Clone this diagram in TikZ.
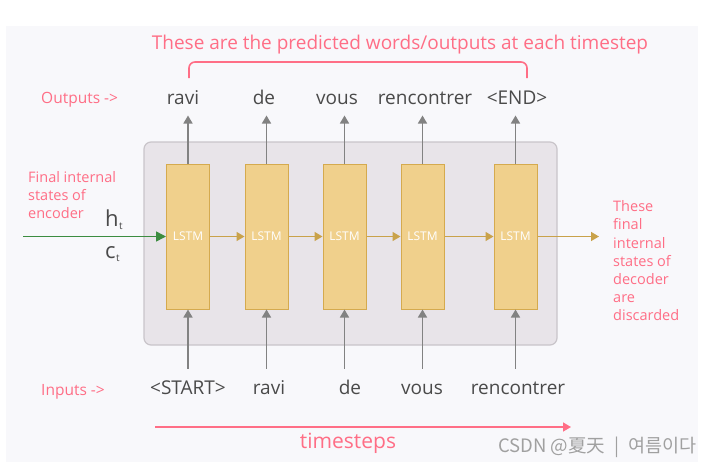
\documentclass[tikz,border=0pt]{standalone}
\usepackage{fontspec}
\setmainfont{Open Sans}
\newfontfamily\cjkfont{Noto Sans CJK SC}
\usetikzlibrary{arrows.meta}
\definecolor{bgc}{HTML}{F8F8FB}
\definecolor{boxf}{HTML}{E8E4E9}
\definecolor{boxb}{HTML}{C9C5CA}
\definecolor{lstmf}{HTML}{F0D08C}
\definecolor{lstmb}{HTML}{D5AA4E}
\definecolor{arrg}{HTML}{C9A24A}
\definecolor{grayar}{HTML}{828282}
\definecolor{grn}{HTML}{3C8C40}
\definecolor{pk}{HTML}{FF6E86}
\definecolor{txt}{HTML}{4A4A4A}
\definecolor{wm}{HTML}{A0A0A0}
\tikzset{
  word/.style={font=\fontsize{19}{22}\selectfont, text=txt, anchor=base, inner sep=0pt},
  pinklbl/.style={font=\fontsize{14.5}{18.2}\selectfont, text=pk, inner sep=0pt, align=left},
  lstmbox/.style={draw=lstmb, fill=lstmf, line width=1pt, minimum width=43pt, minimum height=145pt, inner sep=0pt, font=\fontsize{12}{13}\selectfont, text=white},
  goldar/.style={draw=arrg, line width=1.6pt, -{Triangle[length=8pt,width=9pt]}},
  grayarrow/.style={draw=grayar, line width=1.5pt, -{Triangle[length=8pt,width=9pt]}},
}
\begin{document}
\begin{tikzpicture}[x=1pt,y=-1pt]
\useasboundingbox (0,0) rectangle (716,467);
\fill[white] (0,0) rectangle (716,467);
\fill[bgc] (6,26) rectangle (698,462);
% container
\draw[fill=boxf, draw=boxb, line width=1.2pt, rounded corners=7pt] (144,142) rectangle (557,345);
% title and bracket
\node[font=\fontsize{19}{22}\selectfont, text=pk, anchor=base, inner sep=0pt] (title) at (400,49) {These are the predicted words/outputs at each timestep};
\coordinate (bl) at (189,78);
\coordinate (br) at (527,78);
\draw[pk, line width=1.6pt, rounded corners=6pt] (bl) -- (189,62) -- (527,62) -- (br);
% LSTM boxes
\node[lstmbox] (l1) at (188,236.5) {LSTM};
\node[lstmbox] (l2) at (266.5,236.5) {LSTM};
\node[lstmbox] (l3) at (344.5,236.5) {LSTM};
\node[lstmbox] (l4) at (422.5,236.5) {LSTM};
\node[lstmbox] (l5) at (515.5,236.5) {LSTM};
% outputs
\node[word] (o1) at (183,104) {ravi};
\node[word] (o2) at (264,104) {de};
\node[word] (o3) at (337,104) {vous};
\node[word] (o4) at (425,104) {rencontrer};
\node[word] (o5) at (517,104) {<END>};
\foreach \i in {1,...,5} {\draw[grayarrow] (l\i.north) -- ++(0,-48);}
% inputs
\node[word] (i1) at (188,394) {<START>};
\node[word] (i2) at (269,394) {ravi};
\node[word] (i3) at (350,394) {de};
\node[word] (i4) at (422,394) {vous};
\node[word] (i5) at (518,394) {rencontrer};
\foreach \i in {1,...,5} {\draw[grayarrow] (l\i.south) ++(0,59) -- (l\i.south);}
% recurrent arrows
\draw[goldar] (l1.east) -- (l2.west);
\draw[goldar] (l2.east) -- (l3.west);
\draw[goldar] (l3.east) -- (l4.west);
\draw[goldar] (l4.east) -- (l5.west);
\coordinate (outend) at (599,236.5);
\draw[goldar] (l5.east) -- (outend);
% encoder states
\coordinate (encstart) at (23,236.5);
\draw[grn, line width=1.6pt, -{Triangle[length=10pt,width=10pt]}] (encstart) -- (l1.west);
\node[font=\fontsize{22}{26}\selectfont, text=txt, anchor=base west, inner sep=0pt] (ht) at (105,226) {h\kern0.5pt\raisebox{-3.5pt}{\fontsize{10}{11}\selectfont t}};
\node[font=\fontsize{22}{26}\selectfont, text=txt, anchor=base west, inner sep=0pt] (ct) at (105,258) {c\kern0.5pt\raisebox{-3.5pt}{\fontsize{10}{11}\selectfont t}};
\node[pinklbl, anchor=north west] (enc) at (28,171) {Final internal\\states of\\encoder};
\node[pinklbl, anchor=north west] (dec) at (613,200.5) {These\\final\\internal\\states of\\decoder\\are\\discarded};
% row labels
\node[pinklbl, font=\fontsize{15.5}{18}\selectfont, anchor=base west] (outl) at (41,103) {Outputs ->};
\node[pinklbl, font=\fontsize{15.5}{18}\selectfont, anchor=base west] (inl) at (41,395) {Inputs ->};
% timesteps
\coordinate (ts1) at (155,427);
\coordinate (ts2) at (571,427);
\draw[pk, line width=1.6pt, -{Triangle[length=8pt,width=9pt]}] (ts1) -- (ts2);
\node[font=\fontsize{21}{24}\selectfont, text=pk, anchor=base, inner sep=0pt] (tsl) at (348,448) {timesteps};
% watermark
\node[font=\cjkfont\fontsize{18.5}{20}\selectfont, text=wm, anchor=base west, inner sep=0pt] (wmk) at (498,452) {CSDN @夏天\hspace{9pt}|\hspace{9pt}여름이다};
\end{tikzpicture}
\end{document}
